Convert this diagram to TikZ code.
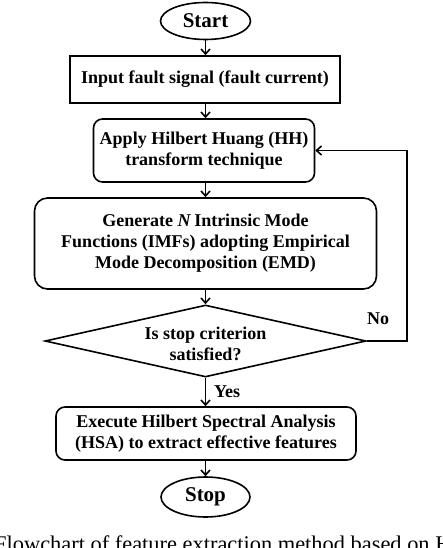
\documentclass[tikz,border=0pt]{standalone}
\usepackage{fontspec}
\setmainfont{Liberation Serif}
\usetikzlibrary{arrows.meta,shapes.geometric}
\tikzset{
  box/.style={draw, line width=1.6pt, inner sep=0pt, align=center, font=\fontsize{18}{21}\selectfont\bfseries},
  rbox/.style={box, rounded corners=9pt},
  term/.style={draw, ellipse, line width=1.6pt, inner sep=0pt, font=\fontsize{21}{24}\selectfont\bfseries},
  lbl/.style={font=\fontsize{18}{21}\selectfont\bfseries, inner sep=0pt},
  arr/.style={line width=1.6pt, -{Straight Barb[length=5pt,width=9pt,line width=1.6pt]}}
}
\begin{document}
\begin{tikzpicture}[x=1pt,y=-1pt]
\useasboundingbox (0,0) rectangle (442,548);
\clip (0,0) rectangle (442,548);
\node[term, minimum width=90pt, minimum height=37pt] (start) at (205.5,21) {Start};
\node[box, minimum width=270pt, minimum height=47pt] (input) at (205,79.5) {Input fault signal (fault current)};
\node[rbox, minimum width=221pt, minimum height=63pt] (apply) at (204,150.5) {Apply Hilbert Huang (HH)\\transform technique};
\node[rbox, rounded corners=13pt, minimum width=342pt, minimum height=91pt] (gen) at (205.5,243.5) {Generate \textit{N}\,Intrinsic Mode\\Functions (IMFs) adopting Empirical\\Mode Decomposition (EMD)};
\node[diamond, draw, line width=1.6pt, inner sep=0pt, minimum width=321pt, minimum height=72pt] (dec) at (205.5,341) {};
\node[lbl, align=center] (dectext) at (205.5,344) {Is stop criterion\\satisfied?};
\node[rbox, minimum width=300pt, minimum height=53pt] (exec) at (206,433.5) {Execute Hilbert Spectral Analysis\\(HSA) to extract effective features};
\node[term, minimum width=89pt, minimum height=40pt] (stop) at (205.5,497) {Stop};
\coordinate (fb) at (407,341);
\node[lbl, anchor=west] (yes) at (214,392) {Yes};
\node[lbl] (no) at (378,319) {No};
\node[anchor=base west, inner sep=0pt, font=\fontsize{22.4}{24}\selectfont] (cap) at (-6,551) {Flowchart of feature extraction method based on HHT};
\draw[arr] (start.south) -- (start.south |- input.north);
\draw[arr] (input.south -| 205.5,0) -- (apply.north -| 205.5,0);
\draw[arr] (apply.south -| 205.5,0) -- (gen.north -| 205.5,0);
\draw[arr] (gen.south) -- (dec.north);
\draw[arr] (dec.south) -- (dec.south |- exec.north);
\draw[arr] (exec.south -| 205.5,0) -- (stop.north);
\draw[arr] (dec.east) -- (fb) |- (apply.east);
\end{tikzpicture}
\end{document}
